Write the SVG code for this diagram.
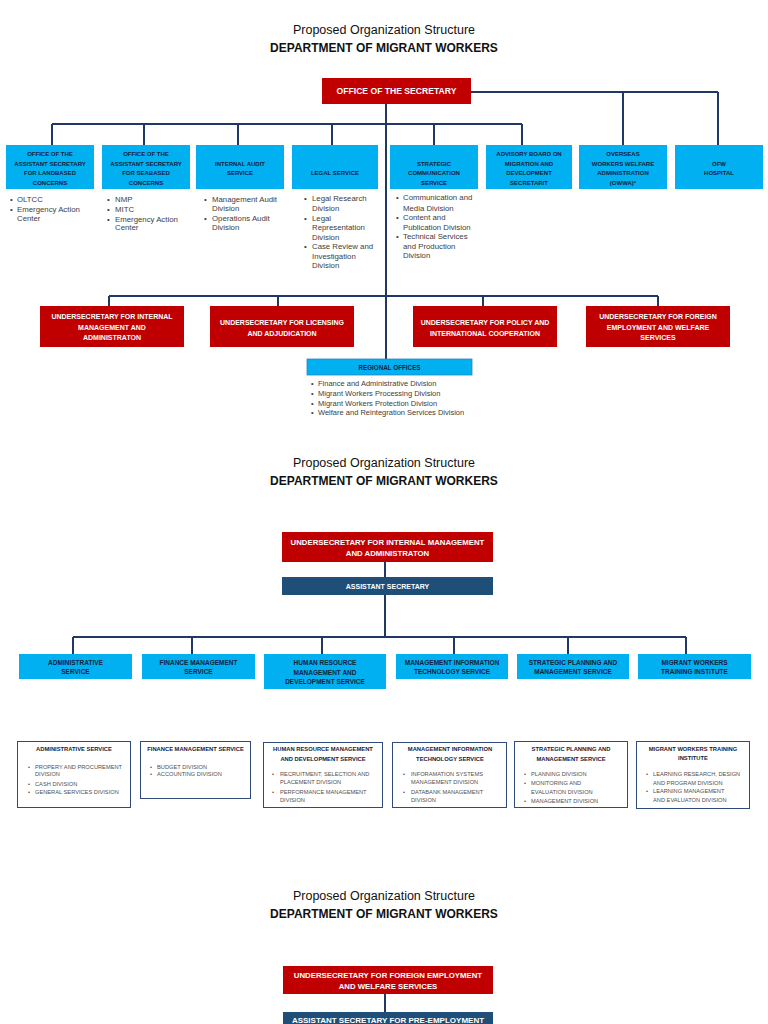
<svg xmlns="http://www.w3.org/2000/svg" width="768" height="1024" viewBox="0 0 768 1024">
<style>
text{font-family:"Liberation Sans",Arial,sans-serif}
.cy{fill:#00B0F0}
.rd{fill:#C00000}
.db{fill:#1F4E79}
.wb{fill:#ffffff;stroke:#2F4B7C;stroke-width:1}
.rg{fill:#00B0F0;stroke:#2E86C1;stroke-width:0.8}
.h1{font-size:12.5px;fill:#111;text-anchor:middle}
.h2{font-size:12px;font-weight:bold;fill:#111;text-anchor:middle}
.bt{font-size:6px;font-weight:bold;fill:#14213d;text-anchor:middle}
.wt{font-weight:bold;fill:#ffffff;text-anchor:middle}
.bl{font-size:7.8px;fill:#404040}
.rb{font-size:7.5px;fill:#404040}
.s2{font-size:6.5px;font-weight:bold;fill:#14213d;text-anchor:middle}
.s3{font-size:5.8px;font-weight:bold;fill:#14213d;text-anchor:middle}
.sb{font-size:5.7px;fill:#505050}
.ln{stroke:#1F3864;stroke-width:2;fill:none}
</style>

<!-- Titles -->
<text class="h1" x="384" y="34">Proposed Organization Structure</text>
<text class="h2" x="384" y="51.5">DEPARTMENT OF MIGRANT WORKERS</text>
<text class="h1" x="384" y="467">Proposed Organization Structure</text>
<text class="h2" x="384" y="484.5">DEPARTMENT OF MIGRANT WORKERS</text>
<text class="h1" x="384" y="900">Proposed Organization Structure</text>
<text class="h2" x="384" y="917.5">DEPARTMENT OF MIGRANT WORKERS</text>

<g id="connectors">
  <path class="ln" d="M471 92H718M623 92V145M718 92V145"/>
  <path class="ln" d="M386 104V359"/>
  <path class="ln" d="M52 124H522M52 124V145M144 124V145M238 124V145M332 124V145M434 124V145M522 124V145"/>
  <path class="ln" d="M109 296H658M109 296V306M278 296V306M483 296V306M658 296V306"/>
  <path class="ln" d="M385 562V577M385 595V637M73 637H686M73 637V654M192 637V654M322 637V654M454 637V654M568 637V654M686 637V654"/>
  <path class="ln" d="M385 994V1012"/>
</g>

<g id="secretary">
  <rect class="rd" x="322" y="78" width="149" height="26"/>
  <text class="wt" x="396.5" y="94" style="font-size:8.6px">OFFICE OF THE SECRETARY</text>
</g>

<g id="asec-landbased">
  <rect class="cy" x="6" y="145" width="88" height="44"/>
  <text class="bt" x="50" y="155.5">OFFICE OF THE</text>
  <text class="bt" x="50" y="165.5">ASSISTANT SECRETARY</text>
  <text class="bt" x="50" y="175">FOR LANDBASED</text>
  <text class="bt" x="50" y="184.5">CONCERNS</text>
  <text class="bl" x="10" y="202">•</text><text class="bl" x="17" y="202">OLTCC</text>
  <text class="bl" x="10" y="211.5">•</text><text class="bl" x="17" y="211.5">Emergency Action</text>
  <text class="bl" x="17" y="221">Center</text>
</g>

<g id="asec-seabased">
  <rect class="cy" x="102" y="145" width="88" height="44"/>
  <text class="bt" x="146" y="155.5">OFFICE OF THE</text>
  <text class="bt" x="146" y="165.5">ASSISTANT SECRETARY</text>
  <text class="bt" x="146" y="175">FOR  SEABASED</text>
  <text class="bt" x="146" y="184.5">CONCERNS</text>
  <text class="bl" x="107" y="202">•</text><text class="bl" x="115" y="202">NMP</text>
  <text class="bl" x="107" y="211.5">•</text><text class="bl" x="115" y="211.5">MITC</text>
  <text class="bl" x="107" y="221.5">•</text><text class="bl" x="115" y="221.5">Emergency Action</text>
  <text class="bl" x="115" y="230">Center</text>
</g>

<g id="internal-audit">
  <rect class="cy" x="196" y="145" width="88" height="44"/>
  <text class="bt" x="240" y="165.5">INTERNAL AUDIT</text>
  <text class="bt" x="240" y="175">SERVICE</text>
  <text class="bl" x="204" y="202">•</text><text class="bl" x="212" y="202">Management Audit</text>
  <text class="bl" x="212" y="210.5">Division</text>
  <text class="bl" x="204" y="220.5">•</text><text class="bl" x="212" y="220.5">Operations Audit</text>
  <text class="bl" x="212" y="229.5">Division</text>
</g>

<g id="legal">
  <rect class="cy" x="292" y="145" width="86" height="44"/>
  <text class="bt" x="335" y="174.5">LEGAL SERVICE</text>
  <text class="bl" x="304" y="201">•</text><text class="bl" x="312" y="201">Legal Research</text>
  <text class="bl" x="312" y="210.5">Division</text>
  <text class="bl" x="304" y="220.5">•</text><text class="bl" x="312" y="220.5">Legal</text>
  <text class="bl" x="312" y="230">Representation</text>
  <text class="bl" x="312" y="239.5">Division</text>
  <text class="bl" x="304" y="249">•</text><text class="bl" x="312" y="249">Case Review and</text>
  <text class="bl" x="312" y="259">Investigation</text>
  <text class="bl" x="312" y="268">Division</text>
</g>

<g id="strategic-comm">
  <rect class="cy" x="390" y="145" width="88" height="44"/>
  <text class="bt" x="434" y="165.5">STRATEGIC</text>
  <text class="bt" x="434" y="175">COMMUNICATION</text>
  <text class="bt" x="434" y="184.5">SERVICE</text>
  <text class="bl" x="396" y="200">•</text><text class="bl" x="403" y="200">Communication and</text>
  <text class="bl" x="403" y="210.5">Media Division</text>
  <text class="bl" x="396" y="219.5">•</text><text class="bl" x="403" y="219.5">Content and</text>
  <text class="bl" x="403" y="229.5">Publication Division</text>
  <text class="bl" x="396" y="239">•</text><text class="bl" x="403" y="239">Technical Services</text>
  <text class="bl" x="403" y="249">and Production</text>
  <text class="bl" x="403" y="258">Division</text>
</g>

<g id="advisory-board">
  <rect class="cy" x="486" y="145" width="86" height="44"/>
  <text class="bt" x="529" y="155.5">ADVISORY BOARD ON</text>
  <text class="bt" x="529" y="165.5">MIGRATION AND</text>
  <text class="bt" x="529" y="175">DEVELOPMENT</text>
  <text class="bt" x="529" y="184.5">SECRETARIT</text>
</g>

<g id="owwa">
  <rect class="cy" x="579" y="145" width="88" height="44"/>
  <text class="bt" x="623" y="155.5">OVERSEAS</text>
  <text class="bt" x="623" y="165.5">WORKERS WELFARE</text>
  <text class="bt" x="623" y="175">ADMINISTRATION</text>
  <text class="bt" x="623" y="184.5">(OWWA)*</text>
</g>

<g id="ofw-hospital">
  <rect class="cy" x="675" y="145" width="88" height="44"/>
  <text class="bt" x="719" y="165.5">OFW</text>
  <text class="bt" x="719" y="175">HOSPITAL</text>
</g>

<g id="usec-internal">
  <rect class="rd" x="40" y="306" width="144" height="41"/>
  <text class="wt" x="112" y="319" style="font-size:7px">UNDERSECRETARY FOR INTERNAL</text>
  <text class="wt" x="112" y="329.5" style="font-size:7px">MANAGEMENT AND</text>
  <text class="wt" x="112" y="340" style="font-size:7px">ADMINISTRATON</text>
</g>

<g id="usec-licensing">
  <rect class="rd" x="210" y="306" width="144" height="41"/>
  <text class="wt" x="282" y="324.5" style="font-size:7px">UNDERSECRETARY FOR LICENSING</text>
  <text class="wt" x="282" y="335.5" style="font-size:7px">AND ADJUDICATION</text>
</g>

<g id="usec-policy">
  <rect class="rd" x="413" y="306" width="144" height="41"/>
  <text class="wt" x="485" y="324.5" style="font-size:7px">UNDERSECRETARY FOR POLICY AND</text>
  <text class="wt" x="485" y="335.5" style="font-size:7px">INTERNATIONAL COOPERATION</text>
</g>

<g id="usec-foreign">
  <rect class="rd" x="586" y="306" width="144" height="41"/>
  <text class="wt" x="658" y="319" style="font-size:7px">UNDERSECRETARY FOR FOREIGN</text>
  <text class="wt" x="658" y="329.5" style="font-size:7px">EMPLOYMENT AND WELFARE</text>
  <text class="wt" x="658" y="340" style="font-size:7px">SERVICES</text>
</g>

<g id="regional-offices">
  <rect class="rg" x="307" y="359" width="165" height="16"/>
  <text class="bt" x="389.5" y="369.8" style="font-size:6.3px">REGIONAL OFFICES</text>
  <text class="rb" x="311" y="386">•</text><text class="rb" x="318" y="386">Finance and Administrative Division</text>
  <text class="rb" x="311" y="395.5">•</text><text class="rb" x="318" y="395.5">Migrant Workers Processing Division</text>
  <text class="rb" x="311" y="405.5">•</text><text class="rb" x="318" y="405.5">Migrant Workers Protection Division</text>
  <text class="rb" x="311" y="415">•</text><text class="rb" x="318" y="415">Welfare and Reintegration Services Division</text>
</g>

<!-- Section 2 -->
<g id="usec-internal-2">
  <rect class="rd" x="282" y="532" width="211" height="30"/>
  <text class="wt" x="387.5" y="545" style="font-size:7.8px">UNDERSECRETARY  FOR INTERNAL MANAGEMENT</text>
  <text class="wt" x="387.5" y="556" style="font-size:7.8px">AND ADMINISTRATON</text>
</g>

<g id="asec-2">
  <rect class="db" x="282" y="577" width="211" height="18"/>
  <text class="wt" x="387.5" y="588.7" style="font-size:7px">ASSISTANT SECRETARY</text>
</g>

<g id="admin-service">
  <rect class="cy" x="19" y="654" width="113" height="25"/>
  <text class="s2" x="75.5" y="664.5">ADMINISTRATIVE</text>
  <text class="s2" x="75.5" y="673.5">SERVICE</text>
</g>
<g id="finance-service">
  <rect class="cy" x="142" y="654" width="113" height="25"/>
  <text class="s2" x="198.5" y="664.5">FINANCE MANAGEMENT</text>
  <text class="s2" x="198.5" y="673.5">SERVICE</text>
</g>
<g id="hr-service">
  <rect class="cy" x="264" y="654" width="122" height="35"/>
  <text class="s2" x="325" y="664.5">HUMAN RESOURCE</text>
  <text class="s2" x="325" y="674.5">MANAGEMENT AND</text>
  <text class="s2" x="325" y="684">DEVELOPMENT SERVICE</text>
</g>
<g id="mit-service">
  <rect class="cy" x="396" y="654" width="112" height="25"/>
  <text class="s2" x="452" y="664.5">MANAGEMENT INFORMATION</text>
  <text class="s2" x="452" y="673.5">TECHNOLOGY SERVICE</text>
</g>
<g id="sp-service">
  <rect class="cy" x="517" y="654" width="112" height="25"/>
  <text class="s2" x="573" y="664.5">STRATEGIC PLANNING AND</text>
  <text class="s2" x="573" y="673.5">MANAGEMENT SERVICE</text>
</g>
<g id="mwti">
  <rect class="cy" x="638" y="654" width="113" height="25"/>
  <text class="s2" x="694.5" y="664.5">MIGRANT WORKERS</text>
  <text class="s2" x="694.5" y="673.5">TRAINING INSTITUTE</text>
</g>

<g id="admin-detail">
  <rect class="wb" x="17.5" y="741.5" width="113" height="66"/>
  <text class="s3" x="74" y="751">ADMINISTRATIVE SERVICE</text>
  <text class="sb" x="28" y="768.5">•</text><text class="sb" x="35" y="768.5">PROPERY AND PROCUREMENT</text>
  <text class="sb" x="35" y="776">DIVISION</text>
  <text class="sb" x="28" y="785.5">•</text><text class="sb" x="35" y="785.5">CASH DIVISION</text>
  <text class="sb" x="28" y="793.5">•</text><text class="sb" x="35" y="793.5">GENERAL SERVICES DIVISION</text>
</g>
<g id="finance-detail">
  <rect class="wb" x="140.5" y="741.5" width="110" height="57"/>
  <text class="s3" x="195.5" y="751">FINANCE MANAGEMENT SERVICE</text>
  <text class="sb" x="150" y="768.5">•</text><text class="sb" x="157" y="768.5">BUDGET DIVISION</text>
  <text class="sb" x="150" y="776">•</text><text class="sb" x="157" y="776">ACCOUNTING DIVISION</text>
</g>
<g id="hr-detail">
  <rect class="wb" x="263.5" y="742.5" width="119" height="65"/>
  <text class="s3" x="323" y="751">HUMAN RESOURCE MANAGEMENT</text>
  <text class="s3" x="323" y="761">AND DEVELOPMENT SERVICE</text>
  <text class="sb" x="272" y="776">•</text><text class="sb" x="280" y="776">RECRUITMENT, SELECTION AND</text>
  <text class="sb" x="280" y="784">PLACEMENT  DIVISION</text>
  <text class="sb" x="272" y="794">•</text><text class="sb" x="280" y="794">PERFORMANCE MANAGEMENT</text>
  <text class="sb" x="280" y="802">DIVISION</text>
</g>
<g id="mit-detail">
  <rect class="wb" x="392.5" y="742.5" width="114" height="65"/>
  <text class="s3" x="450" y="751">MANAGEMENT INFORMATION</text>
  <text class="s3" x="450" y="761">TECHNOLOGY SERVICE</text>
  <text class="sb" x="403" y="776">•</text><text class="sb" x="411" y="776">INFORAMATION SYSTEMS</text>
  <text class="sb" x="411" y="784">MANAGEMENT DIVISION</text>
  <text class="sb" x="403" y="794">•</text><text class="sb" x="411" y="794">DATABANK MANAGEMENT</text>
  <text class="sb" x="411" y="802">DIVISION</text>
</g>
<g id="sp-detail">
  <rect class="wb" x="514.5" y="741.5" width="113" height="66"/>
  <text class="s3" x="571" y="751">STRATEGIC PLANNING AND</text>
  <text class="s3" x="571" y="761">MANAGEMENT SERVICE</text>
  <text class="sb" x="524" y="776">•</text><text class="sb" x="531" y="776">PLANNING DIVISION</text>
  <text class="sb" x="524" y="785">•</text><text class="sb" x="531" y="785">MONITORING AND</text>
  <text class="sb" x="531" y="793.5">EVALUATION DIVISION</text>
  <text class="sb" x="524" y="802.5">•</text><text class="sb" x="531" y="802.5">MANAGEMENT DIVISION</text>
</g>
<g id="mwti-detail">
  <rect class="wb" x="636.5" y="741.5" width="113" height="67"/>
  <text class="s3" x="693" y="751">MIGRANT WORKERS TRAINING</text>
  <text class="s3" x="693" y="760">INSTITUTE</text>
  <text class="sb" x="646" y="776">•</text><text class="sb" x="653" y="776">LEARNING RESEARCH, DESIGN</text>
  <text class="sb" x="653" y="784.5">AND PROGRAM DIVISION</text>
  <text class="sb" x="646" y="793">•</text><text class="sb" x="653" y="793">LEARNING MANAGEMENT</text>
  <text class="sb" x="653" y="802">AND EVALUATON DIVISION</text>
</g>

<!-- Section 3 -->
<g id="usec-foreign-3">
  <rect class="rd" x="283" y="966" width="210" height="28"/>
  <text class="wt" x="388" y="978" style="font-size:7.8px">UNDERSECRETARY  FOR FOREIGN EMPLOYMENT</text>
  <text class="wt" x="388" y="989" style="font-size:7.8px">AND WELFARE SERVICES</text>
</g>
<g id="asec-preemployment">
  <rect class="db" x="283" y="1012" width="210" height="20"/>
  <text class="wt" x="388" y="1023" style="font-size:8px">ASSISTANT SECRETARY FOR PRE-EMPLOYMENT</text>
</g>
</svg>
